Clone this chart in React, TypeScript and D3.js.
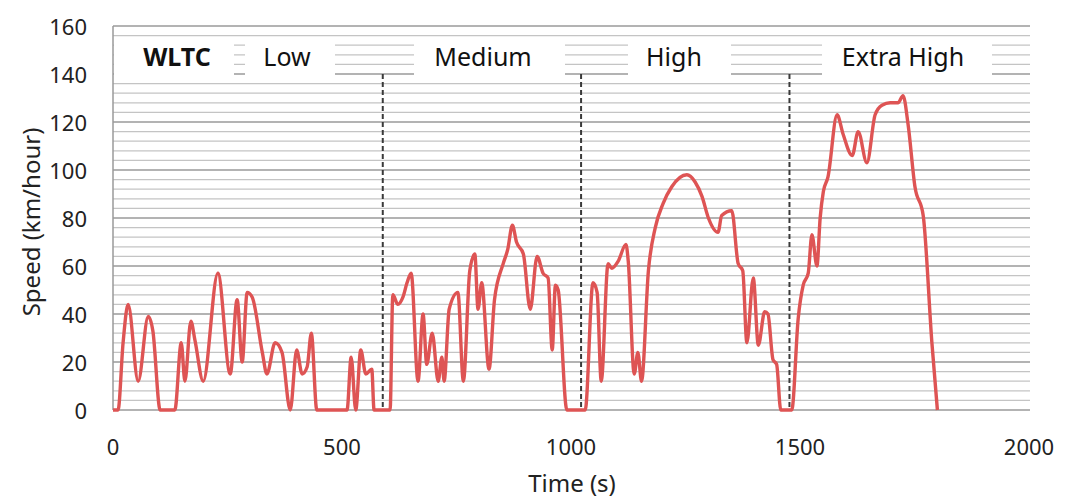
import React from "react";
import * as d3 from "d3";

// WLTC speed trace (time in s, speed in km/h)
const times = [0, 11, 22, 33, 55, 77, 87, 103, 135, 149, 157, 170, 179, 197, 229, 256, 271, 282, 293, 304, 326, 336, 354, 369, 387, 401, 413, 424, 433, 445, 511, 520, 530, 541, 552, 565, 570, 605,
  611, 622, 633, 642, 651, 666, 677, 685, 697, 710, 718, 723, 734, 753, 765, 779, 790, 797, 805, 821, 833, 852, 862, 872, 881, 896, 911, 926, 939, 950, 959, 966, 972, 991, 1031,
  1048, 1057, 1066, 1081, 1089, 1103, 1120, 1125, 1138, 1146, 1154, 1169, 1184, 1201, 1220, 1253, 1271, 1286, 1300, 1321, 1329, 1351, 1365, 1375, 1384, 1398, 1409, 1423, 1430, 1441, 1449, 1458, 1482,
  1496, 1507, 1518, 1526, 1537, 1544, 1551, 1561, 1581, 1594, 1614, 1627, 1646, 1664, 1679, 1697, 1714, 1725, 1736, 1751, 1769, 1788, 1800];
const speeds = [0, 0, 28, 44, 12, 39, 33, 0, 0, 28, 12, 37, 29, 12, 57, 15, 46, 20, 49, 47, 24, 15, 28, 24, 0, 25, 15, 18, 32, 0, 0, 22, 0, 25, 15, 17, 0, 0,
  48, 44, 47, 53, 57, 12, 40, 19, 32, 12, 22, 12, 42, 49, 12, 58, 65, 42, 53, 17, 46, 61, 67, 77, 70, 65, 42, 64, 57, 55, 25, 52, 50, 0, 0,
  53, 49, 12, 61, 59, 62, 69, 62, 15, 24, 12, 58, 76, 86, 93, 98, 95, 89, 80, 74, 81, 83, 61, 58, 28, 55, 27, 41, 40, 21, 19, 0, 0,
  38, 52, 57, 73, 60, 80, 91, 97, 123, 115, 106, 116, 103, 123, 127, 128, 128, 131, 119, 93, 81, 28, 0];

const xTicks = [0, 500, 1000, 1500, 2000];
const yTicks = [0, 20, 40, 60, 80, 100, 120, 140, 160];
const phaseBounds = [589, 1022, 1477];
const phaseNames = ["WLTC", "Low", "Medium", "High", "Extra High"];
const phaseLabelX = [177, 287, 483, 674, 903];
const phaseBoxes = [[113, 233], [245, 335], [414, 565], [628, 731], [822, 992]];

export default function App() {
  const W = 1080, H = 504;
  const x = d3.scaleLinear().domain([0, 2000]).range([113, 1029]);
  const y = d3.scaleLinear().domain([0, 160]).range([410, 26]);
  const data = times.map((t, i) => [t, speeds[i]] as [number, number]);
  const line = d3.line<[number, number]>().x(d => x(d[0])).y(d => y(d[1])).curve(d3.curveMonotoneX);
  const grid = d3.range(0, 161, 4);
  const font = "'Noto Sans', 'Open Sans', sans-serif";

  return (
    <svg width={W} height={H} style={{ position: "absolute", left: 0, top: 0, background: "#fff" }}>
      <rect x={0} y={0} width={W} height={H} fill="#fff" />
      {grid.map(g => (
        <line key={g} x1={x(0)} x2={1030} y1={y(g)} y2={y(g)}
          stroke={g % 20 === 0 ? "#9a9a9a" : "#c4c4c4"} strokeWidth={g % 20 === 0 ? 1.6 : 1.2} />
      ))}
      <line x1={x(0)} x2={x(0)} y1={y(160)} y2={y(0)} stroke="#9a9a9a" strokeWidth={1.5} />
      {phaseBoxes.map((b, i) => (
        <rect key={i} x={b[0] + (i === 0 ? 1 : 0)} y={39} width={b[1] - b[0]} height={39} fill="#fff" />
      ))}
      {phaseNames.map((n, i) => (
        <text key={n} x={phaseLabelX[i]} y={56} textAnchor="middle" dominantBaseline="central"
          fontFamily={font} fontSize={25} fontWeight={i === 0 ? 700 : 400} fill="#111">{n}</text>
      ))}
      {phaseBounds.map(b => (
        <line key={b} x1={x(b)} x2={x(b)} y1={y(140)} y2={y(0)} stroke="#3a3a3a" strokeWidth={2} strokeDasharray="5,3" />
      ))}
      <path d={line(data) || ""} fill="none" stroke="#de5454" strokeWidth={3.4} strokeLinejoin="round" />
      {yTicks.map(t => (
        <text key={t} x={87} y={y(t)} textAnchor="end" dominantBaseline="central"
          fontFamily={font} fontSize={22} fill="#222">{t}</text>
      ))}
      {xTicks.map(t => (
        <text key={t} x={x(t)} y={446} textAnchor="middle" dominantBaseline="central"
          fontFamily={font} fontSize={22} fill="#222">{t}</text>
      ))}
      <text x={572} y={482} textAnchor="middle" dominantBaseline="central" fontFamily={font} fontSize={24} fill="#222">Time (s)</text>
      <text transform="translate(30,222) rotate(-90)" textAnchor="middle" dominantBaseline="central"
        fontFamily={font} fontSize={24} fill="#222">Speed (km/hour)</text>
    </svg>
  );
}
